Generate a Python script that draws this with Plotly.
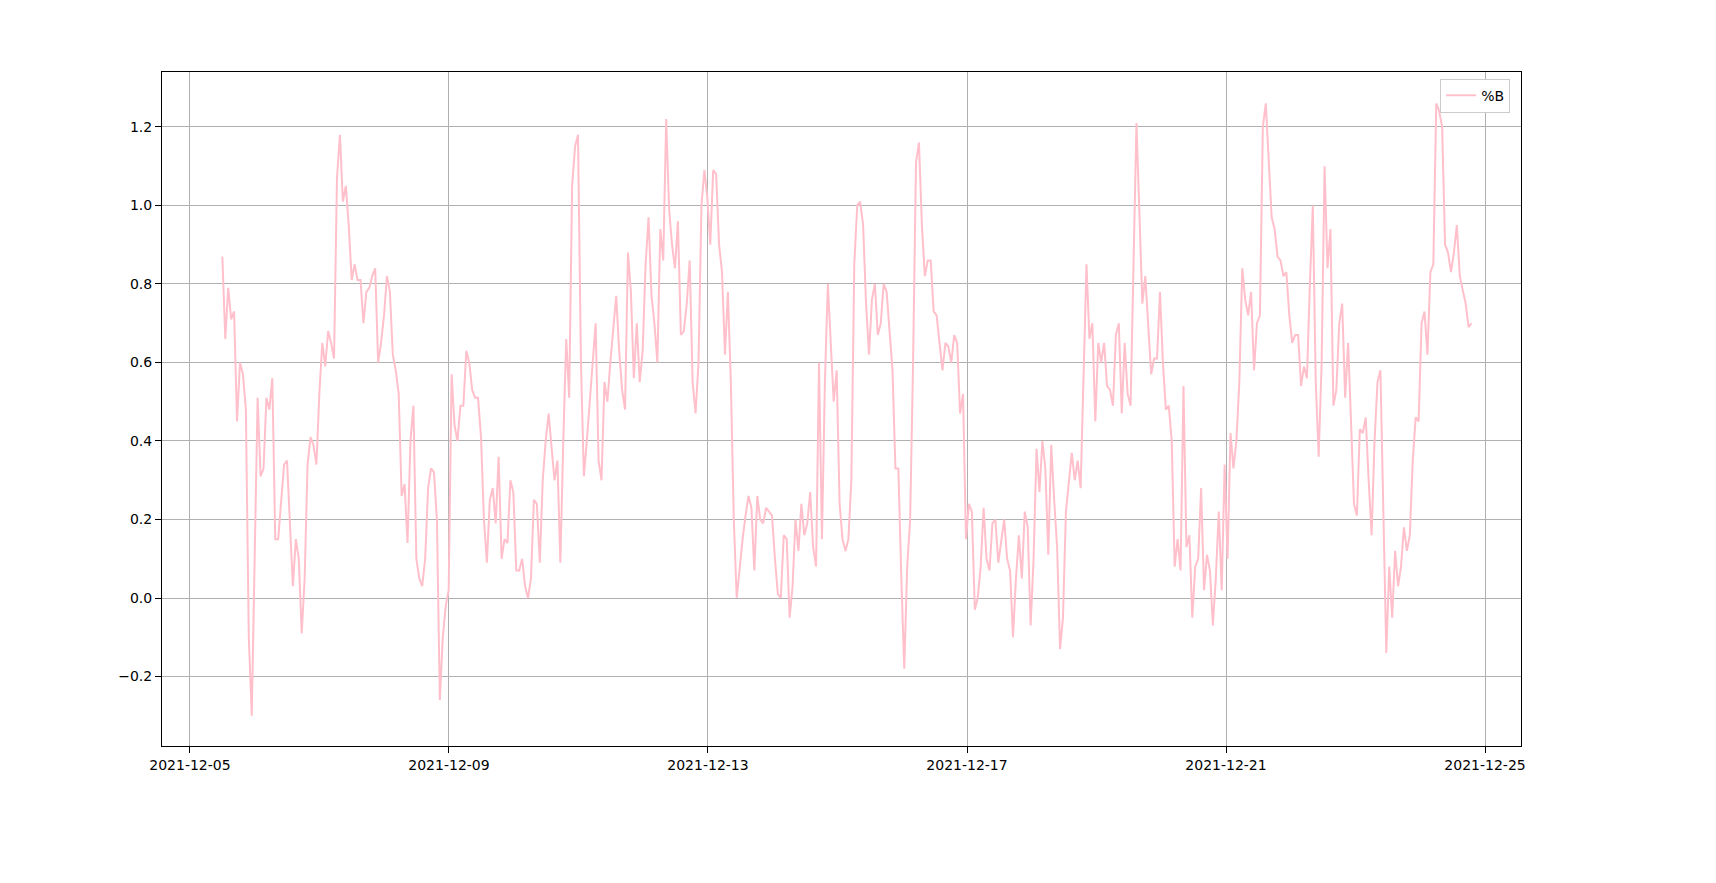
import plotly.graph_objs as go
import pandas as pd

# %B values, roughly hourly
pct_b = [0.87, 0.66, 0.79, 0.71, 0.73, 0.45, 0.60, 0.57, 0.48, -0.1, -0.30, 0.1, 0.51, 0.31, 0.33, 0.51, 0.48, 0.56,
         0.15, 0.15, 0.25, 0.34, 0.35, 0.20, 0.03, 0.15, 0.10, -0.09, 0.05, 0.34, 0.41, 0.39, 0.34, 0.52, 0.65, 0.59,
         0.68, 0.65, 0.61, 1.07, 1.18, 1.01, 1.05, 0.95, 0.81, 0.85, 0.81, 0.81, 0.70, 0.78, 0.79, 0.82, 0.84, 0.60,
         0.65, 0.72, 0.82, 0.78, 0.62, 0.58, 0.52, 0.26, 0.29, 0.14, 0.40, 0.49, 0.10, 0.05, 0.03, 0.10, 0.28, 0.33,
         0.32, 0.20, -0.26, -0.10, -0.02, 0.02, 0.57, 0.44, 0.40, 0.49, 0.49, 0.63, 0.60, 0.53, 0.51, 0.51, 0.41, 0.20,
         0.09, 0.25, 0.28, 0.19, 0.36, 0.10, 0.15, 0.14, 0.30, 0.27, 0.07, 0.07, 0.10, 0.03, 0.00, 0.05, 0.25, 0.24,
         0.09, 0.30, 0.40, 0.47, 0.38, 0.30, 0.35, 0.09, 0.40, 0.66, 0.51, 1.05, 1.15, 1.18, 0.60, 0.31, 0.40, 0.50,
         0.62, 0.70, 0.35, 0.30, 0.55, 0.50, 0.60, 0.68, 0.77, 0.63, 0.53, 0.48, 0.88, 0.78, 0.56, 0.70, 0.55, 0.63,
         0.85, 0.97, 0.77, 0.70, 0.60, 0.94, 0.86, 1.22, 0.99, 0.90, 0.84, 0.96, 0.67, 0.68, 0.75, 0.86, 0.55, 0.47,
         0.60, 1.00, 1.09, 1.02, 0.90, 1.09, 1.08, 0.90, 0.83, 0.62, 0.78, 0.55, 0.20, 0.00, 0.08, 0.15, 0.21, 0.26,
         0.23, 0.07, 0.26, 0.20, 0.19, 0.23, 0.22, 0.21, 0.10, 0.01, 0.00, 0.16, 0.15, -0.05, 0.03, 0.20, 0.12, 0.24,
         0.16, 0.19, 0.27, 0.13, 0.08, 0.60, 0.15, 0.55, 0.80, 0.65, 0.50, 0.58, 0.24, 0.15, 0.12, 0.15, 0.30, 0.85,
         1.00, 1.01, 0.95, 0.75, 0.62, 0.76, 0.80, 0.67, 0.70, 0.80, 0.78, 0.68, 0.58, 0.33, 0.33, 0.05, -0.18, 0.08,
         0.20, 0.60, 1.11, 1.16, 0.95, 0.82, 0.86, 0.86, 0.73, 0.72, 0.64, 0.58, 0.65, 0.64, 0.60, 0.67, 0.65, 0.47,
         0.52, 0.15, 0.24, 0.22, -0.03, 0.00, 0.08, 0.23, 0.10, 0.07, 0.19, 0.20, 0.09, 0.15, 0.20, 0.10, 0.07, -0.10,
         0.05, 0.16, 0.05, 0.22, 0.18, -0.07, 0.10, 0.38, 0.27, 0.40, 0.33, 0.11, 0.39, 0.25, 0.13, -0.13, -0.05, 0.22,
         0.30, 0.37, 0.30, 0.35, 0.28, 0.55, 0.85, 0.66, 0.70, 0.45, 0.65, 0.60, 0.65, 0.54, 0.53, 0.49, 0.67, 0.70,
         0.47, 0.65, 0.52, 0.49, 0.90, 1.21, 0.98, 0.75, 0.82, 0.70, 0.57, 0.61, 0.61, 0.78, 0.60, 0.48, 0.49, 0.40,
         0.08, 0.15, 0.07, 0.54, 0.13, 0.16, -0.05, 0.08, 0.10, 0.28, 0.02, 0.11, 0.07, -0.07, 0.05, 0.22, 0.02, 0.34,
         0.10, 0.42, 0.33, 0.40, 0.55, 0.84, 0.76, 0.72, 0.78, 0.58, 0.70, 0.72, 1.20, 1.26, 1.10, 0.97, 0.94, 0.87,
         0.86, 0.82, 0.83, 0.72, 0.65, 0.67, 0.67, 0.54, 0.59, 0.56, 0.80, 1.00, 0.55, 0.36, 0.60, 1.10, 0.84, 0.94,
         0.49, 0.53, 0.70, 0.75, 0.51, 0.65, 0.45, 0.24, 0.21, 0.43, 0.42, 0.46, 0.30, 0.16, 0.40, 0.55, 0.58, 0.25,
         -0.14, 0.08, -0.05, 0.12, 0.03, 0.08, 0.18, 0.12, 0.16, 0.35, 0.46, 0.45, 0.70, 0.73, 0.62, 0.83, 0.85, 1.26,
         1.24, 1.20, 0.90, 0.88, 0.83, 0.88, 0.95, 0.82, 0.78, 0.75, 0.69, 0.70]

dates = pd.date_range("2021-12-05 12:00", "2021-12-24 19:00", periods=len(pct_b))
tick_dates = ["2021-12-05", "2021-12-09", "2021-12-13", "2021-12-17", "2021-12-21", "2021-12-25"]

fig = go.Figure()
fig.add_trace(go.Scatter(x=dates, y=pct_b, mode="lines", name="%B",
                         line=dict(color="pink", width=2)))

axis_style = dict(showline=True, linecolor="black", linewidth=1, mirror=True,
                  showgrid=True, gridcolor="#b0b0b0", gridwidth=1, zeroline=False,
                  ticks="outside", ticklen=6, tickcolor="black",
                  tickfont=dict(family="DejaVu Sans", size=14, color="black"))

fig.update_layout(
    width=1716, height=883,
    paper_bgcolor="white", plot_bgcolor="white",
    margin=dict(l=154, r=203, t=64, b=145),
    showlegend=True,
    legend=dict(x=0.992, y=0.99, xanchor="right", yanchor="top",
                bordercolor="#cccccc", borderwidth=1,
                font=dict(family="DejaVu Sans", size=14, color="black")),
)
fig.update_xaxes(axis_style, range=["2021-12-04 13:38", "2021-12-25 13:20"],
                 tickvals=tick_dates, ticktext=tick_dates)
fig.update_yaxes(axis_style, range=[-0.377, 1.34],
                 tickvals=[-0.2, 0, 0.2, 0.4, 0.6, 0.8, 1.0, 1.2],
                 ticktext=["\u22120.2", "0.0", "0.2", "0.4", "0.6", "0.8", "1.0", "1.2"])

fig.write_html("out.html")
